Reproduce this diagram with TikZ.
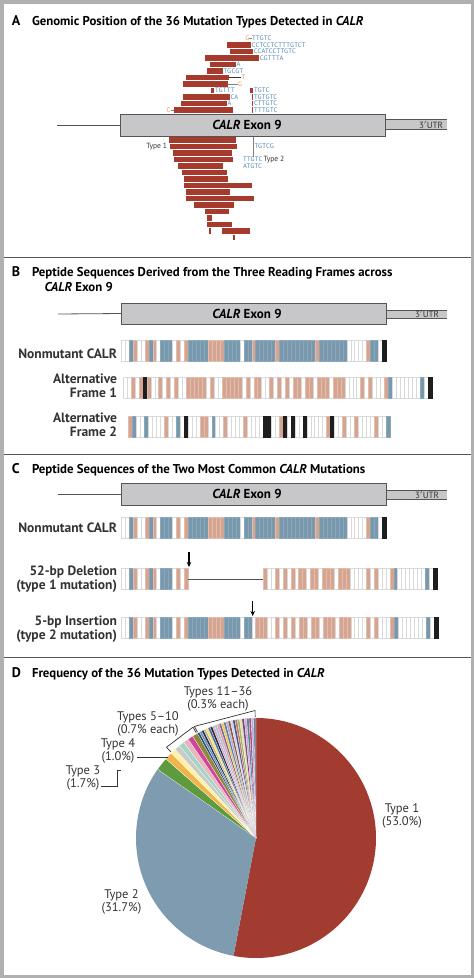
\documentclass[tikz,border=0pt]{standalone}
\usepackage{fontspec}
\setmainfont{PT Sans}
\newfontfamily\seqfont[LetterSpace=4]{PT Sans}
\usetikzlibrary{arrows.meta}
\definecolor{redbar}{HTML}{A53A2D}
\definecolor{seqblue}{HTML}{4F86B5}
\definecolor{seqorange}{HTML}{E39B55}
\definecolor{exonfill}{HTML}{C7C7C9}
\definecolor{exonline}{HTML}{555555}
\definecolor{cellb}{HTML}{7898AE}
\definecolor{cells}{HTML}{D6A591}
\definecolor{cellk}{HTML}{1E1E1E}
\definecolor{cellw}{HTML}{FFFFFF}
\definecolor{edgeb}{HTML}{8CA7BA}
\definecolor{edges}{HTML}{E2BCAC}
\definecolor{edgek}{HTML}{1E1E1E}
\definecolor{edgew}{HTML}{D9D9D9}
\definecolor{framecol}{HTML}{B0B0B0}
\definecolor{sepcol}{HTML}{555555}
\definecolor{txt}{HTML}{333333}
\definecolor{pieA}{HTML}{A33C30}
\definecolor{pieB}{HTML}{7F9BB0}
\definecolor{pieC}{HTML}{5E9A3E}
\definecolor{pieD}{HTML}{F0B44A}
\newcommand\cellrow[4]{\def\cx{#1}\def\cy{#2}\def\ch{#3}\cellrowi#4\relax}
\def\cellrowi#1{\ifx#1\relax\else\filldraw[fill=cell#1,draw=edge#1,line width=0.3pt] (\cx,\cy) rectangle ++(3.96,\ch);\pgfmathsetmacro\cx{\cx+3.96}\expandafter\cellrowi\fi}
\begin{document}
\begin{tikzpicture}[x=1pt,y=-1pt,
  every node/.style={inner sep=0pt,outer sep=0pt},
  ttl/.style={anchor=base west,font=\fontsize{12.8}{14}\selectfont\bfseries},
  lett/.style={anchor=base west,font=\fontsize{14}{15}\selectfont\bfseries},
  lab/.style={anchor=base east,align=right,font=\fontsize{13.5}{14}\selectfont\bfseries,text=txt},
  seq/.style={anchor=west,font=\seqfont\fontsize{6.6}{7}\selectfont,text=seqblue},
  ntd/.style={anchor=west,font=\seqfont\fontsize{6.6}{7}\selectfont,text=seqorange},
  typ/.style={anchor=west,font=\fontsize{7.5}{8}\selectfont,text=txt},
  pl/.style={align=center,anchor=base,font=\fontsize{12.5}{13}\selectfont,text=txt},
  exon/.style={draw=exonline,fill=exonfill,line width=0.8pt,minimum width=265pt},
  exlab/.style={font=\fontsize{13}{14}\selectfont\bfseries},
  utr/.style={anchor=east,font=\fontsize{9}{9}\selectfont,text=txt},
  gline/.style={draw=exonline,line width=0.8pt},
  arr/.style={-{Stealth[length=5pt,width=4.5pt]},line width=1.2pt},
  leader/.style={draw=txt,line width=0.7pt}
]
\useasboundingbox (0,0) rectangle (474,978);
\fill[white] (0,0) rectangle (474,978);

% ---------------- Panel A
\node[lett] (A) at (12,25) {A};
\node[ttl] (tA) at (32,25) {Genomic Position of the 36 Mutation Types Detected in \textit{CALR}};
\fill[exonfill] (385,119.5) rectangle (447,129.5);
\draw[exonline,line width=0.6pt] (385,119.5) -- (447,119.5) (385,129.5) -- (447,129.5);
\node[exon,minimum height=22pt] (exA) at (252.5,125) {};
\coordinate (lA) at (57,125);
\draw[gline] (lA) -- (exA.west);
\node[exlab] (exAt) at (247,125) {\textit{CALR} Exon 9};
\node[utr] (utrA) at (443,124.5) {3$'$UTR};
% bars above
\foreach \xa/\xb/\yc in {227/251/45,230/253/51.5,205/259/58,210/236/64.5,207/223/71,186/229/77.5,183/228/84,211/214/90.5,183/230/97,181/227/103.5,174/233/110,250/253/90.5,251.6/252.8/97,251.6/252.8/103.5,251.6/252.8/110}
  {\fill[redbar] (\xa,\yc-2.9) rectangle (\xb,\yc+2.9);}
% bars below
\foreach \xa/\xb/\yc in {169/236/140,170/237/146.5,173/232/153,174/233/159.5,178/223/166,182/227/172.5,184/228/179,184/252/185.5,186/230/192,186/254/198.5,194/234/205,205/229/211.5,207/212/218,207/232/224.5,209.4/210.8/231,222/250/231,233.4/234.8/237.5}
  {\fill[redbar] (\xa,\yc-2.9) rectangle (\xb,\yc+2.9);}
\coordinate (g1) at (253,136.5);
\coordinate (g2) at (253,157);
\draw[draw=gray,line width=1pt] (g1) -- (g2);
% sequence texts
\node[ntd,anchor=east] (s1a) at (249.5,38.5) {G};
\coordinate (d1a) at (249.3,38.5); \coordinate (d1b) at (252,38.5);
\draw[gray,line width=0.6pt] (d1a) -- (d1b);
\node[seq] (s1b) at (252,38.5) {TTGTC};
\node[seq] (s2) at (251.8,45) {CCTCCTCTTTGTCT};
\node[seq] (s3) at (253.8,51.5) {CCATCCTTGTC};
\node[seq] (s4) at (259.8,58) {CGTTTA};
\node[seq] (s5) at (236.5,64.5) {A};
\node[seq] (s6) at (223.6,71) {TGCGT};
\coordinate (d7a) at (229,77.5); \coordinate (d7b) at (241,77.5);
\draw[txt,line width=0.6pt] (d7a) -- (d7b);
\node[ntd] (s7) at (241.5,77.5) {T};
\coordinate (d8a) at (228,84); \coordinate (d8b) at (237.5,84);
\draw[gray,line width=0.9pt] (d8a) -- (d8b);
\node[ntd] (s8) at (238,84) {G};
\node[seq] (s9a) at (215,90.5) {TGTTT};
\node[seq] (s9b) at (254,90.5) {TGTC};
\node[seq] (s10a) at (230.5,97) {CA};
\node[seq] (s10b) at (254,97) {TGTGTC};
\node[seq] (s11a) at (227.5,103.5) {A};
\node[seq] (s11b) at (254,103.5) {CTTGTC};
\node[ntd,anchor=east] (s12a) at (170.5,110) {C};
\coordinate (d12a) at (170.5,110); \coordinate (d12b) at (174,110);
\draw[gray,line width=0.6pt] (d12a) -- (d12b);
\node[seq] (s12b) at (254,110) {TTTGTC};
\node[seq] (u1) at (254.5,146.5) {TGTCG};
\node[typ,anchor=east] (ty1) at (167,146.5) {Type 1};
\node[seq] (u2) at (243,159.5) {TTGTC};
\node[typ] (ty2) at (u2.east) {\,Type 2};
\node[seq] (u3) at (243,166) {ATGTC};

% ---------------- Panel B
\node[lett] (B) at (12,276) {B};
\node[ttl] (tB1) at (32,276) {Peptide Sequences Derived from the Three Reading Frames across};
\node[ttl] (tB2) at (44.5,291) {\textit{CALR} Exon 9};
\fill[exonfill] (386,310) rectangle (447,318.5);
\draw[exonline,line width=0.6pt] (386,310) -- (447,310) (386,318.5) -- (447,318.5);
\node[exon,minimum height=21pt] (exB) at (253.5,313.5) {};
\coordinate (lB) at (58,314);
\draw[gline] (lB) -- (exB.west);
\node[exlab] (exBt) at (247,313.5) {\textit{CALR} Exon 9};
\node[utr] (utrB) at (439,314) {3$'$UTR};
\cellrow{121}{340}{21.5}{wwbswwsbswbbbwswsbbbbbssssbbbbwbbsbbbbbsbbbbbbbbbsbbbbbbbwwwwwsbbwk}
\cellrow{123}{377}{21.5}{wwswskswwswswswwssssswswwssssswswsswwswswswsswsswssswssswwwwswswwwsbwwwwwwwbwk}
\cellrow{128.5}{416}{21.5}{sbwwbwwwwswwbwkwwwsswbwwswwwwswwwwkkwwskwkwwkwwwwwskwwswwswwwwswwb}
\node[lab] (nB) at (117,358) {Nonmutant CALR};
\node[lab] (f1) at (117,397) {Alternative\\Frame 1};
\node[lab] (f2) at (117,436) {Alternative\\Frame 2};

% ---------------- Panel C
\node[lett] (C) at (12,473) {C};
\node[ttl] (tC) at (32,473) {Peptide Sequences of the Two Most Common \textit{CALR} Mutations};
\fill[exonfill] (386,490.5) rectangle (447,499);
\draw[exonline,line width=0.6pt] (386,490.5) -- (447,490.5) (386,499) -- (447,499);
\node[exon,minimum height=22pt] (exC) at (253.5,494) {};
\coordinate (lC) at (58,494);
\draw[gline] (lC) -- (exC.west);
\node[exlab] (exCt) at (247,494) {\textit{CALR} Exon 9};
\node[utr] (utrC) at (439,494.5) {3$'$UTR};
\cellrow{121}{517}{21.5}{wwbswwsbswbbbwswsbbbbbssssbbbbwbbsbbbbbsbbbbbbbbbsbbbbbbbwwwwwsbbwk}
\cellrow{121}{568}{21.5}{wwbswwsbswbbbwsws}
\cellrow{263}{568}{21.5}{swwswswswsswsswssswssswwwwswswwwsbwwwwwwwbwk}
\coordinate (del1) at (188.3,579);
\coordinate (del2) at (263,579);
\draw[gline] (del1) -- (del2);
\cellrow{121}{617}{21.5}{wwbswwsbswbbbwswsbbbbbssssbbbbwbbwssswwswswswsswsswssswssswwwwswswwwsbwwwwwwwbwk}
\coordinate (ar1a) at (189,552); \coordinate (ar1b) at (189,567);
\draw[arr] (ar1a) -- (ar1b);
\coordinate (ar2a) at (252.7,601); \coordinate (ar2b) at (252.7,616);
\draw[arr] (ar2a) -- (ar2b);
\node[lab] (nC) at (117,532) {Nonmutant CALR};
\node[lab] (dl) at (117,589) {52-bp Deletion\\(type 1 mutation)};
\node[lab] (in) at (117,639) {5-bp Insertion\\(type 2 mutation)};

% ---------------- Panel D
\node[lett] (D) at (12,677) {D};
\node[ttl] (tD) at (32,677) {Frequency of the 36 Mutation Types Detected in \textit{CALR}};
\begin{scope}[shift={(256,838)},x=1pt,y=1pt]
  \fill[pieA] (0,0) -- (90:120) arc[start angle=90,end angle=-100.8,radius=120] -- cycle;
  \fill[pieB] (0,0) -- (-100.8:120) arc[start angle=-100.8,end angle=-214.92,radius=120] -- cycle;
  \filldraw[fill=pieC,draw=white,line width=0.2pt] (0,0) -- (145.08:120) arc[start angle=145.08,end angle=138.71,radius=120] -- cycle;
  \filldraw[fill=pieD,draw=white,line width=0.2pt] (0,0) -- (138.71:120) arc[start angle=138.71,end angle=134.96,radius=120] -- cycle;
  \foreach \c [count=\i from 0] in {FFF1A8,C9C9C9,A6D5C5,E5B8BE,D2449A,8F8A3A}{
    \pgfmathsetmacro\aa{134.96-2.623*\i}\pgfmathsetmacro\bb{\aa-2.623}
    \definecolor{tmpc}{HTML}{\c}
    \filldraw[fill=tmpc,draw=white,line width=0.2pt] (0,0) -- (\aa:120) arc[start angle=\aa,end angle=\bb,radius=120] -- cycle;}
  \foreach \c [count=\i from 0] in {2E4C7E,6F8FB8,1F3358,C6B38E,F6E36A,4B6FA5,2A2A3A,D9A6C9,A3C4DC,E8A0A0,7F6A8A,F2C75C,5C7F9E,B0B0D8,8D5B3B,E0D0F0,3D5D8D,C97A6A,9AB87A,F0E0A0,6B4E7E,DDA0DD,4A8A9A,B05070,C8A8E8,708090}{
    \pgfmathsetmacro\aa{119.23-1.1240*\i}\pgfmathsetmacro\bb{\aa-1.1240}
    \definecolor{tmpc}{HTML}{\c}
    \filldraw[fill=tmpc,draw=white,line width=0.15pt] (0,0) -- (\aa:120) arc[start angle=\aa,end angle=\bb,radius=120] -- cycle;}
  \coordinate (bk1) at (118.9:121); \coordinate (bk2) at (118.9:127.5);
  \coordinate (bk3) at (90.4:127.5); \coordinate (bk4) at (90.4:121);
  \coordinate (bk5) at (134.6:121); \coordinate (bk6) at (134.6:127.5);
  \coordinate (bk7) at (119.6:127.5); \coordinate (bk8) at (119.6:121);
\end{scope}
\draw[leader] (bk1) -- (bk2) -- (bk3) -- (bk4);
\draw[leader] (bk5) -- (bk6) -- (bk7) -- (bk8);
\node[pl] (p1) at (218,708) {Types 11–36\\(0.3\% each)};
\node[pl] (p2) at (148,733.5) {Types 5–10\\(0.7\% each)};
\node[pl] (p3) at (118,760) {Type 4\\(1.0\%)};
\node[pl] (p4) at (83,787) {Type 3\\(1.7\%)};
\node[pl] (p5) at (402,825) {Type 1\\(53.0\%)};
\node[pl] (p6) at (121.5,911) {Type 2\\(31.7\%)};
\coordinate (q4a) at (137,757); \coordinate (q4b) at (168,757);
\draw[leader] (q4a) -- (q4b);
\coordinate (q3a) at (101,786); \coordinate (q3b) at (117,786); \coordinate (q3c) at (117,770); \coordinate (q3d) at (121,770);
\draw[leader] (q3a) -- (q3b) -- (q3c) -- (q3d);

% ---------------- frame
\coordinate (sA1) at (0,257); \coordinate (sA2) at (474,257);
\coordinate (sB1) at (0,454); \coordinate (sB2) at (474,454);
\coordinate (sC1) at (0,657); \coordinate (sC2) at (474,657);
\draw[sepcol,line width=1pt] (sA1) -- (sA2) (sB1) -- (sB2) (sC1) -- (sC2);
\draw[framecol,line width=3.5pt] (1.75,1.75) rectangle (472.25,976.25);
\end{tikzpicture}
\end{document}
